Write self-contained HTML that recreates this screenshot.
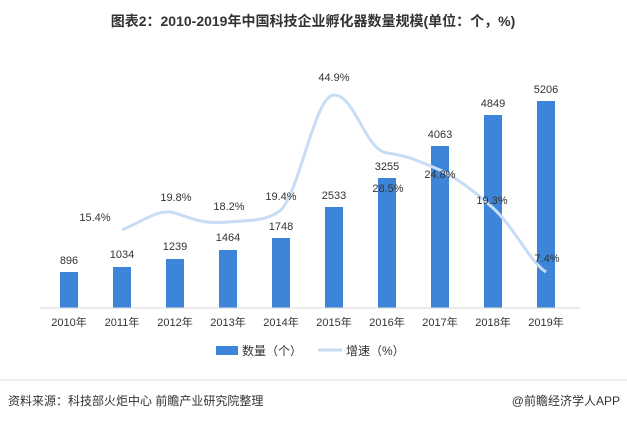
<!DOCTYPE html>
<html><head><meta charset="utf-8"><style>
body{margin:0;background:#fff;width:627px;height:422px;overflow:hidden;font-family:"Liberation Sans","Noto Sans CJK SC",sans-serif;}
</style></head><body>
<svg width="627" height="422" xmlns="http://www.w3.org/2000/svg" font-family="Liberation Sans, Noto Sans CJK SC, sans-serif">
<text x="313" y="26" text-anchor="middle" font-size="14" font-weight="bold" fill="#333">图表2：2010-2019年中国科技企业孵化器数量规模(单位：个，%)</text>
<g fill="#3d85d8">
<rect x="60" y="272" width="18" height="36"/>
<rect x="113" y="267" width="18" height="41"/>
<rect x="166" y="259" width="18" height="49"/>
<rect x="219" y="250" width="18" height="58"/>
<rect x="272" y="238" width="18" height="70"/>
<rect x="325" y="207" width="18" height="101"/>
<rect x="378" y="178" width="18" height="130"/>
<rect x="431" y="146" width="18" height="162"/>
<rect x="484" y="115" width="18" height="193"/>
<rect x="537" y="101" width="18" height="207"/>
</g>
<line x1="40" y1="308" x2="580" y2="308" stroke="#d9d9d9"/>
<path d="M122,230 C145,220 160,208 175,213 C195,220 205,224 228,222 C250,220 265,222 281,210 C300,190 315,95 334,95 C355,95 365,150 387,153 C410,156 420,162 440,170 C460,180 475,192 493,208 C515,228 530,262 546,272" fill="none" stroke="#c7ddf5" stroke-width="3"/>
<g font-size="11" fill="#333" text-anchor="middle">
<text x="69" y="264">896</text><text x="122" y="258">1034</text><text x="175" y="250">1239</text><text x="228" y="241">1464</text><text x="281" y="230">1748</text><text x="334" y="199">2533</text><text x="387" y="170">3255</text><text x="440" y="138">4063</text><text x="493" y="107">4849</text><text x="546" y="93">5206</text>
<text x="95" y="221">15.4%</text><text x="176" y="201">19.8%</text><text x="229" y="210">18.2%</text><text x="281" y="200">19.4%</text><text x="334" y="81">44.9%</text><text x="388" y="192">28.5%</text><text x="440" y="178">24.8%</text><text x="492" y="204">19.3%</text><text x="547" y="262">7.4%</text>
<text x="69" y="326">2010年</text><text x="122" y="326">2011年</text><text x="175" y="326">2012年</text><text x="228" y="326">2013年</text><text x="281" y="326">2014年</text><text x="334" y="326">2015年</text><text x="387" y="326">2016年</text><text x="440" y="326">2017年</text><text x="493" y="326">2018年</text><text x="546" y="326">2019年</text>
</g>
<rect x="216" y="346" width="22" height="9" fill="#3d85d8"/>
<text x="242" y="355" font-size="12" fill="#333">数量（个）</text>
<line x1="318" y1="350" x2="342" y2="350" stroke="#c7ddf5" stroke-width="3"/>
<text x="346" y="355" font-size="12" fill="#333">增速（%）</text>
<line x1="0" y1="380" x2="627" y2="380" stroke="#ddd"/>
<text x="8" y="405" font-size="12" fill="#333">资料来源：科技部火炬中心 前瞻产业研究院整理</text>
<text x="620" y="405" font-size="12" fill="#333" text-anchor="end">@前瞻经济学人APP</text>
</svg>
</body></html>
